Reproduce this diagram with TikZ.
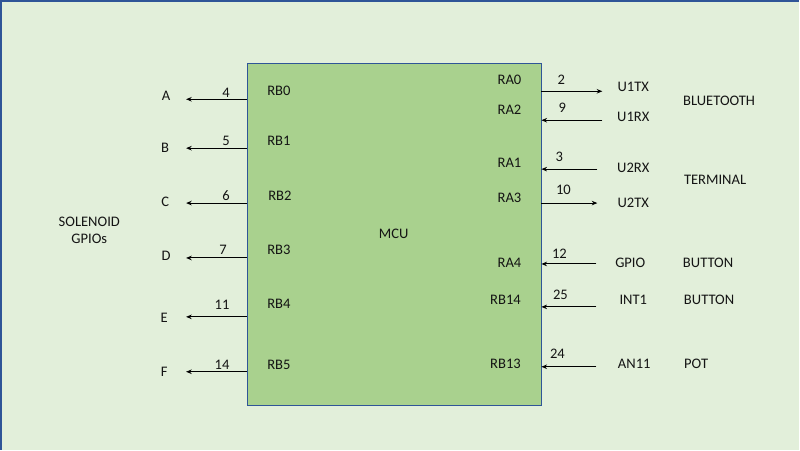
\documentclass[tikz,border=0pt]{standalone}
\usepackage{fontspec}
\setmainfont{Carlito}
\usetikzlibrary{arrows.meta}
\definecolor{pagegreen}{HTML}{E2EFDA}
\definecolor{mcugreen}{HTML}{A9D18E}
\definecolor{frameblue}{HTML}{2F5597}
\definecolor{textdark}{HTML}{141414}

\begin{document}
\begin{tikzpicture}[
    x=0.02cm, y=-0.02cm,
    every node/.style={font=\fontsize{8.3}{9.8}\selectfont, text=textdark, inner sep=1pt},
    mcu/.style={%
        draw=frameblue, fill=mcugreen, line width=0.6pt,
        minimum width=5.9cm, minimum height=6.84cm, anchor=north west},
    wire/.style={draw=black, line width=0.55pt, -{Stealth[length=3.2pt,width=2.6pt]}},
]
%   \draw[help lines] (0,0) grid (800,450);

    % Background
    \fill[pagegreen] (0,0) rectangle (800,450);
    \draw[frameblue, line width=1.2pt] (0.6,450) -- (0.6,0.6) -- (800,0.6);
    \useasboundingbox (0,0) rectangle (800,450);

    % MCU
    \node[mcu] (box) at (247,63) {};
    \node (mcutxt) at (394,234) {MCU};

    % Solenoid outputs
    \node[align=center] (sol) at (89,230) {SOLENOID\\GPIOs};

    \coordinate (rb0) at (247,99);  \coordinate (a) at (186,99);
    \coordinate (rb1) at (247,148); \coordinate (b) at (186,148);
    \coordinate (rb2) at (247,203); \coordinate (c) at (186,203);
    \coordinate (rb3) at (247,258); \coordinate (d) at (186,258);
    \coordinate (rb4) at (247,317); \coordinate (e) at (186,317);
    \coordinate (rb5) at (247,372); \coordinate (f) at (186,372);

    \draw[wire] (rb0) -- (a);
    \draw[wire] (rb1) -- (b);
    \draw[wire] (rb2) -- (c);
    \draw[wire] (rb3) -- (d);
    \draw[wire] (rb4) -- (e);
    \draw[wire] (rb5) -- (f);

    \node (la) at (166,96) {A};
    \node (lb) at (165,148) {B};
    \node (lc) at (165,202) {C};
    \node (ld) at (166,256) {D};
    \node (le) at (164,318) {E};
    \node (lf) at (164,372) {F};

    \node (n4) at (226,93) {4};
    \node (n5) at (226,141) {5};
    \node (n6) at (226,196) {6};
    \node (n7) at (223,250) {7};
    \node (n11) at (222,305) {11};
    \node (n14) at (222,365) {14};

    \node (prb0) at (279,91) {RB0};
    \node (prb1) at (279,141) {RB1};
    \node (prb2) at (280,196) {RB2};
    \node (prb3) at (279,250) {RB3};
    \node (prb4) at (279,304) {RB4};
    \node (prb5) at (279,365) {RB5};

    % Port A / B inputs and outputs
    \coordinate (ra0) at (542,91);  \coordinate (u1tx) at (603,91);
    \coordinate (ra2) at (542,120); \coordinate (u1rx) at (603,120);
    \coordinate (ra1) at (542,169); \coordinate (u2rx) at (598,169);
    \coordinate (ra3) at (542,203); \coordinate (u2tx) at (598,203);
    \coordinate (ra4) at (542,264); \coordinate (gpio) at (597,264);
    \coordinate (rb14) at (542,307); \coordinate (int1) at (597,307);
    \coordinate (rb13) at (542,367); \coordinate (an11) at (597,367);

    \draw[wire] (ra0) -- (u1tx);
    \draw[wire] (u1rx) -- (ra2);
    \draw[wire] (u2rx) -- (ra1);
    \draw[wire] (ra3) -- (u2tx);
    \draw[wire] (gpio) -- (ra4);
    \draw[wire] (int1) -- (rb14);
    \draw[wire] (an11) -- (rb13);

    \node (pra0) at (510,80) {RA0};
    \node (pra2) at (510,110) {RA2};
    \node (pra1) at (510,163) {RA1};
    \node (pra3) at (510,198) {RA3};
    \node (pra4) at (510,263) {RA4};
    \node (prb14) at (506,300) {RB14};
    \node (prb13) at (506,364) {RB13};

    \node (n2) at (562,79) {2};
    \node (n9) at (563,108) {9};
    \node (n3) at (560,157) {3};
    \node (n10) at (564,190) {10};
    \node (n12) at (560,254) {12};
    \node (n25) at (561,295) {25};
    \node (n24) at (558,354) {24};

    \node (su1tx) at (634,87) {U1TX};
    \node (su1rx) at (634,117) {U1RX};
    \node (su2rx) at (634,168) {U2RX};
    \node (su2tx) at (634,203) {U2TX};
    \node (sgpio) at (631,263) {GPIO};
    \node (sint1) at (634,300) {INT1};
    \node (san11) at (635,364) {AN11};

    % Devices
    \node (bt) at (720,101) {BLUETOOTH};
    \node (term) at (716,180) {TERMINAL};
    \node (btn1) at (709,263) {BUTTON};
    \node (btn2) at (710,300) {BUTTON};
    \node (pot) at (697,364) {POT};
\end{tikzpicture}
\end{document}
